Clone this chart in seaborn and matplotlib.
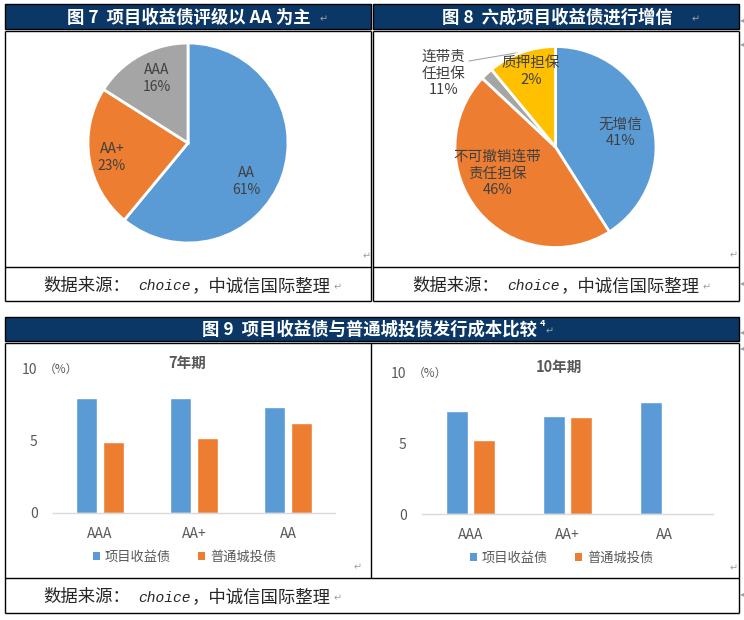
import numpy as np
import pandas as pd
import matplotlib
matplotlib.use("Agg")
import matplotlib.pyplot as plt
import seaborn as sns
from matplotlib.patches import Rectangle, Patch

# ---------------- data ----------------
rating_labels = ['AA', 'AA+', 'AAA']
rating_shares = [61, 23, 16]

credit_labels = ['无增信', '不可撤销连带\n责任担保', '连带责\n任担保', '质押担保']
credit_shares = [41, 46, 2, 11]
credit_pct_text = ['41%', '46%', '11%', '2%']

bar_categories = ['AAA', 'AA+', 'AA']
series_names = ['项目收益债', '普通城投债']
cost_7y_project = [7.97, 7.97, 7.36]
cost_7y_urban = [4.93, 5.23, 6.25]
cost_10y_project = [7.30, 6.95, 7.94]
cost_10y_urban = [5.25, 6.88, np.nan]
y_ticks = [0, 5, 10]
y_tick_labels = ['0', '5', '10']

# ---------------- style ----------------
W, H, DPI = 744, 620, 100
NAVY = '#0b3766'
BLUE, ORANGE, GRAY, YELLOW = '#5B9BD5', '#ED7D31', '#A5A5A5', '#FFC000'
TXT = '#404040'
AXT = '#595959'
MARK = '#a0a0a0'

sns.set_theme(style='white')
plt.rcParams['font.family'] = ['Noto Sans CJK SC', 'DejaVu Sans']
plt.rcParams['axes.unicode_minus'] = False

fig = plt.figure(figsize=(W / DPI, H / DPI), dpi=DPI)
fig.patch.set_facecolor('white')


def rect(x0, y0, x1, y1):
    return [x0 / W, 1 - y1 / H, (x1 - x0) / W, (y1 - y0) / H]


bg = fig.add_axes([0, 0, 1, 1], zorder=-10)
bg.set_xlim(0, W)
bg.set_ylim(H, 0)
bg.axis('off')

LW = 1.0
# title bands
for (x0, y0, x1, y1) in [(5, 4, 371, 29), (373, 4, 739, 29), (5, 317, 739, 341)]:
    bg.add_patch(Rectangle((x0, y0), x1 - x0, y1 - y0, facecolor=NAVY,
                           edgecolor='black', lw=LW))


def hl(y, x0, x1):
    bg.plot([x0, x1], [y, y], color='black', lw=LW, solid_capstyle='butt')


def vl(x, y0, y1):
    bg.plot([x, x], [y0, y1], color='black', lw=LW, solid_capstyle='butt')


for (a, b) in [(5, 371), (373, 739)]:
    hl(30.5, a, b)
    hl(267, a, b)
    hl(301, a, b)
    vl(a, 30.5, 301)
    vl(b, 30.5, 301)
hl(342.5, 5, 739)
hl(578, 5, 739)
hl(613, 5, 739)
vl(5, 342.5, 613)
vl(739, 342.5, 613)
vl(371, 342.5, 578)

title_kw = dict(color='white', fontsize=12.5, fontweight='bold', ha='center', va='center')
bg.text(189, 17.5, '图 7  项目收益债评级以 AA 为主', **title_kw)
bg.text(557, 17.5, '图 8  六成项目收益债进行增信', **title_kw)
bg.text(370, 329.5, '图 9  项目收益债与普通城投债发行成本比较', **title_kw)
bg.text(542, 323, '4', color='white', fontsize=6.5, fontweight='bold', ha='center', va='center')

# paragraph marks
for (x, y) in [(324, 19), (696, 19), (550, 331), (367, 256), (734, 255),
               (358, 567), (734, 568), (338, 287), (707, 287), (338, 598)]:
    bg.text(x, y, '↵', color=MARK, fontsize=7, ha='center', va='center',
            family='DejaVu Sans')
for y in [20, 44, 283, 332, 348, 594]:
    bg.text(742.5, y, '◂', color=MARK, fontsize=6, ha='center', va='center',
            family='DejaVu Sans')

# data source
cjk_kw = dict(fontsize=12.5, color='#262626', ha='left', va='center')
mono_kw = dict(fontsize=10.5, color='#262626', ha='left', va='center', style='italic',
               family=['Liberation Mono', 'DejaVu Sans Mono'])
for (x, y) in [(43, 286), (412, 286), (43, 597)]:
    bg.text(x, y, '数据来源：', **cjk_kw)
    bg.text(x + 95, y + 0.5, 'choice', **mono_kw)
    bg.text(x + 149, y, '，中诚信国际整理', **cjk_kw)


# ---------------- pies ----------------
def pie_panel(cx, cy, r, shares, colors, label_texts, label_pos, fontsize=10):
    ax = fig.add_axes(rect(cx - 1.5 * r, cy - 1.5 * r, cx + 1.5 * r, cy + 1.5 * r))
    ax.pie(shares, colors=colors, startangle=90, counterclock=False, radius=1,
           wedgeprops=dict(edgecolor='white', linewidth=2))
    ax.set_xlim(-1.5, 1.5)
    ax.set_ylim(-1.5, 1.5)
    ax.set_aspect('equal')
    ax.axis('off')
    for t, (px, py) in zip(label_texts, label_pos):
        ax.text(px, py, t, ha='center', va='center', fontsize=fontsize,
                color=TXT, linespacing=1.25)
    return ax


pie_panel(188, 143, 100, rating_shares, [BLUE, ORANGE, GRAY],
          [f'{l}\n{s}%' for l, s in zip(rating_labels, rating_shares)],
          [(0.58, -0.385), (-0.76, -0.145), (-0.31, 0.645)])

pie_panel(555.5, 147, 100.5, credit_shares, [BLUE, ORANGE, GRAY, YELLOW],
          [f'{l}\n{p}' for l, p in zip(credit_labels, credit_pct_text)],
          [(0.645, 0.14), (-0.58, -0.265), (-1.11, 0.73), (-0.245, 0.75)],
          fontsize=10.5)
# leader line for the small slice label
bg.plot([469, 519], [61, 52.5], color='#a6a6a6', lw=0.8)


# ---------------- bars ----------------
palette = {series_names[0]: BLUE, series_names[1]: ORANGE}


def bar_panel(box, title, proj, urb, width, gap, title_xy, legend_xy, unit_xy):
    x0, ytop, x1, ybot = box
    ax = fig.add_axes(rect(x0, ytop, x1, ybot))
    ax.set_facecolor('none')
    df = pd.DataFrame({
        'rating': bar_categories * 2,
        'series': [series_names[0]] * len(bar_categories) + [series_names[1]] * len(bar_categories),
        'value': list(proj) + list(urb),
    }).dropna()
    sns.barplot(data=df, x='rating', y='value', hue='series', order=bar_categories,
                hue_order=series_names, palette=palette, width=width, gap=gap,
                saturation=1, legend=False, errorbar=None, ax=ax)
    ax.set_xlim(-0.5, len(bar_categories) - 0.5)
    ax.set_ylim(0, 10)
    ax.set_yticks(y_ticks)
    ax.set_yticklabels(y_tick_labels)
    ax.set_xlabel('')
    ax.set_ylabel('')
    for s in ['top', 'right', 'left']:
        ax.spines[s].set_visible(False)
    ax.spines['bottom'].set_color('#d9d9d9')
    ax.spines['bottom'].set_linewidth(1.0)
    ax.tick_params(axis='y', length=0, pad=11, labelsize=10, labelcolor=AXT)
    ax.tick_params(axis='x', length=0, pad=10, labelsize=10, labelcolor=AXT)
    bg.text(title_xy[0], title_xy[1], title, fontsize=10.5, fontweight='bold',
            color=AXT, ha='center', va='center')
    bg.text(unit_xy[0], unit_xy[1], '（%）', fontsize=8.5, color=AXT, ha='left', va='center')
    handles = [Patch(facecolor=palette[n], edgecolor='none') for n in series_names]
    fig.legend(handles, series_names, loc='center',
               bbox_to_anchor=(legend_xy[0] / W, 1 - legend_xy[1] / H),
               ncol=2, frameon=False, fontsize=9.5, labelcolor=AXT,
               handlelength=0.55, handleheight=0.55, handletextpad=0.4,
               columnspacing=2.0, borderpad=0, borderaxespad=0)
    return ax


bar_panel((53, 369, 335, 513), '7年期', cost_7y_project, cost_7y_urban,
          0.576, 0.247, (187, 363), (184.5, 557), (43.5, 369))
bar_panel((422, 373, 713, 514), '10年期', cost_10y_project, cost_10y_urban,
          0.55, 0.185, (559, 367), (561.5, 558), (412.5, 373))

fig.savefig('out.png', dpi=DPI, facecolor='white')
